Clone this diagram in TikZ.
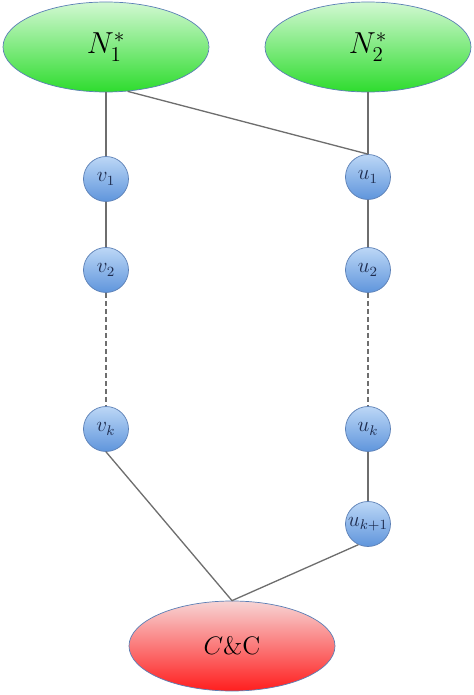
\documentclass[tikz,border=0pt]{standalone}
\usepackage{amsmath, amssymb}
\usepackage{tikz}
\usetikzlibrary{positioning, shapes.geometric}

\definecolor{edgegray}{HTML}{6E6E6E}
\definecolor{rimblue}{HTML}{5B7FB5}
\definecolor{greentop}{HTML}{D2F8D2}
\definecolor{greenbot}{HTML}{2EDC2E}
\definecolor{redtop}{HTML}{F7D4D4}
\definecolor{redbot}{HTML}{FF1E1E}
\definecolor{bluetop}{HTML}{BCD7F6}
\definecolor{bluebot}{HTML}{5F95DC}
\definecolor{navy}{HTML}{1F2D4F}

\begin{document}
\begin{tikzpicture}[
    big/.style={ellipse, draw=rimblue, thin, minimum width=4.12cm, minimum height=1.8cm, text centered},
    goal/.style={big, top color=greentop, bottom color=greenbot, font=\LARGE},
    cc/.style={big, top color=redtop, bottom color=redbot, font=\Large},
    hop/.style={circle, draw=rimblue, thin, minimum size=0.9cm, inner sep=0pt, top color=bluetop, bottom color=bluebot, text=navy, font=\large},
    link/.style={draw=edgegray, line width=0.75pt},
    gap/.style={link, dash pattern=on 0.1cm off 0.06cm}]

    \useasboundingbox (0,0) rectangle (9.48,13.9);

    % Nodes
    \node[goal] (n1) at (2.12,12.96) {$N_1^*$};
    \node[goal] (n2) at (7.36,12.96) {$N_2^*$};
    \node[hop] (v1) at (2.12,10.32) {$v_1$};
    \node[hop] (v2) at (2.12,8.5) {$v_2$};
    \node[hop] (vk) at (2.12,5.32) {$v_k$};
    \node[hop] (u1) at (7.36,10.36) {$u_1$};
    \node[hop] (u2) at (7.36,8.5) {$u_2$};
    \node[hop] (uk) at (7.36,5.32) {$u_k$};
    \node[hop] (uk1) at (7.36,3.42) {$u_{k+1}$};
    \node[cc] (cnc) at (4.64,0.98) {$C$\&C};

    % Edges
    \draw[link] (n1) -- (v1);
    \draw[link] (n1.-64) -- (u1.north);
    \draw[link] (n2) -- (u1);
    \draw[link] (v1) -- (v2);
    \draw[link] (u1) -- (u2);
    \draw[gap] (v2) -- (vk);
    \draw[gap] (u2) -- (uk);
    \draw[link] (uk) -- (uk1);
    \draw[link] (vk.south) -- (cnc.north);
    \draw[link] (uk1.-115) -- (cnc.north);

\end{tikzpicture}
\end{document}
